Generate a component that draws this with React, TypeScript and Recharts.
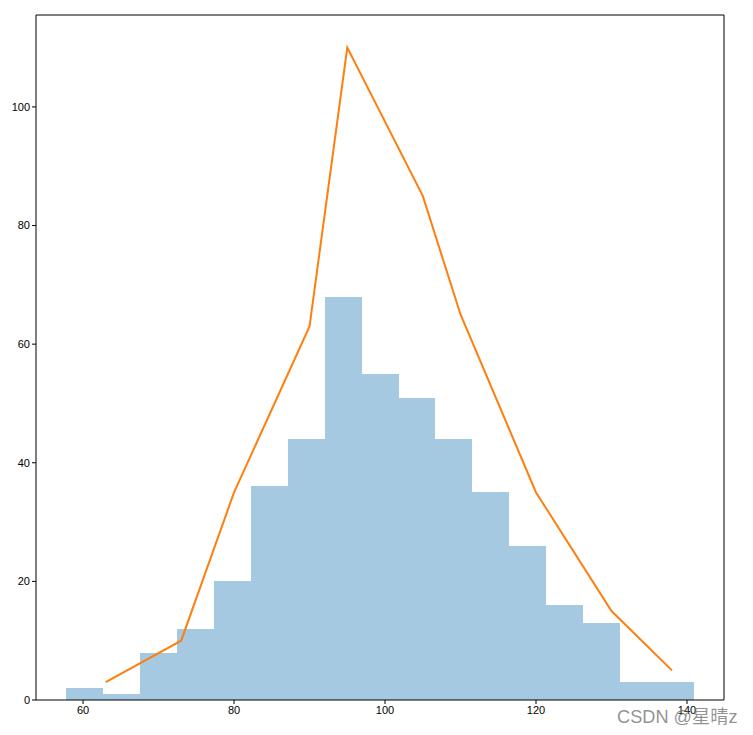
import { ComposedChart, Bar, Line, XAxis, YAxis } from "recharts";

const binLabels = ["b1", "b2", "b3", "b4", "b5", "b6", "b7", "b8", "b9", "b10", "b11", "b12", "b13", "b14", "b15", "b16", "b17"];
const binCounts = [2, 1, 8, 12, 20, 36, 44, 68, 55, 51, 44, 35, 26, 16, 13, 3, 3];

const lineX = [63, 73, 80, 90, 95, 105, 110, 120, 130, 138];
const lineY = [3, 10, 35, 63, 110, 85, 65, 35, 15, 5];

const xTicks = [60, 80, 100, 120, 140];
const yTicks = [0, 20, 40, 60, 80, 100];

const bins = binLabels.map((bin, i) => ({ bin, count: binCounts[i] }));
const linePoints = lineX.map((x, i) => ({ x, y: lineY[i] }));

const tickStyle = { fill: "#000", fontSize: 11, fontFamily: "'Liberation Sans', sans-serif" };

const App = () => {
  return (
    <div style={{ position: "absolute", left: 0, top: 0, width: 753, height: 735, background: "#fff" }}>
      <ComposedChart
        width={753}
        height={735}
        data={bins}
        margin={{ top: 14, right: 28, left: 0, bottom: 0 }}
        barCategoryGap={0}
      >
        {/* bars sit on a band axis at the top, which also draws the top of the frame */}
        <XAxis
          xAxisId="bins"
          orientation="top"
          dataKey="bin"
          height={1}
          tick={false}
          tickLine={false}
          padding={{ left: 30, right: 30 }}
          stroke="#000"
        />
        <XAxis
          xAxisId="num"
          type="number"
          dataKey="x"
          domain={[53.77, 144.9]}
          ticks={xTicks}
          allowDataOverflow
          height={35}
          tick={tickStyle}
          tickSize={4}
          stroke="#000"
        />
        <YAxis
          yAxisId="left"
          type="number"
          domain={[0, 115.5]}
          ticks={yTicks}
          allowDataOverflow
          width={36}
          tick={tickStyle}
          tickSize={4}
          stroke="#000"
        />
        <YAxis yAxisId="right" orientation="right" width={1} domain={[0, 115.5]} tick={false} tickLine={false} stroke="#000" />
        <Bar
          xAxisId="bins"
          yAxisId="left"
          dataKey="count"
          fill="#a5c9e1"
          shapeRendering="crispEdges"
          isAnimationActive={false}
        />
        <Line
          xAxisId="num"
          yAxisId="left"
          data={linePoints}
          dataKey="y"
          type="linear"
          stroke="#ff7f0e"
          strokeWidth={2}
          dot={false}
          activeDot={false}
          isAnimationActive={false}
        />
      </ComposedChart>
      <div
        style={{
          position: "absolute",
          left: 617,
          top: 704,
          fontFamily: "'Liberation Sans', 'Noto Sans CJK SC', sans-serif",
          fontSize: 18.2,
          lineHeight: "26px",
          color: "rgba(110,110,110,0.75)",
          whiteSpace: "nowrap",
        }}
      >
        CSDN @星晴z
      </div>
    </div>
  );
};

export default App;
